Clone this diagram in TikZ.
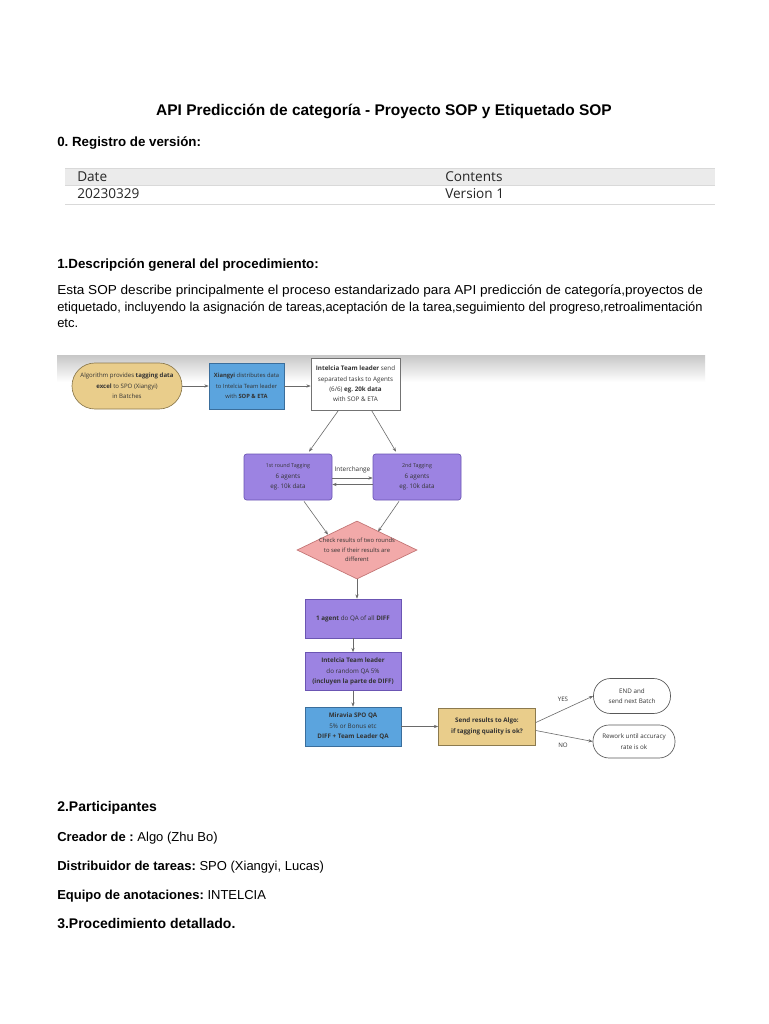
\documentclass[tikz,border=0pt]{standalone}
\usepackage{fontspec}
\usepackage{graphicx}
\setmainfont{Liberation Sans}
\newfontfamily\flowfont{Open Sans}
\newfontfamily\tabfont{Open Sans}
\usetikzlibrary{shapes.geometric,shapes.misc,arrows.meta,calc}
\definecolor{tanc}{HTML}{E9CD8B}
\definecolor{tanb}{HTML}{8C7A4E}
\definecolor{bluec}{HTML}{5BA4DE}
\definecolor{blueb}{HTML}{3A6E9C}
\definecolor{purc}{HTML}{9C83E2}
\definecolor{purb}{HTML}{6B55B3}
\definecolor{pinkc}{HTML}{F2A9A9}
\definecolor{pinkb}{HTML}{C27474}
\definecolor{ftxt}{HTML}{333333}
\definecolor{arrc}{HTML}{6A6A6A}
\frenchspacing
\begin{document}
\begin{tikzpicture}[x=0.75pt,y=-0.75pt,
  doc/.style={anchor=base west,inner sep=0pt,font=\fontsize{9.75}{11}\selectfont},
  head/.style={anchor=base west,inner sep=0pt,font=\fontsize{10}{12}\selectfont\bfseries},
  tab/.style={anchor=base west,inner sep=0pt,font=\tabfont\fontsize{10.2}{12}\selectfont,text=black!85},
  box/.style 2 args={draw,line width=0.5pt,align=center,inner sep=0pt,text=ftxt,
     font=\flowfont\fontsize{4.7}{7.8}\selectfont,
     minimum width=#1*0.75pt,minimum height=#2*0.75pt},
  tanbox/.style={fill=tanc,draw=tanb},
  bluebox/.style={fill=bluec,draw=blueb},
  purbox/.style={fill=purc,draw=purb},
  whitebox/.style={fill=white,draw=black!55},
  arr/.style={draw=arrc,line width=0.45pt,-{Stealth[length=3.2pt,width=2.4pt]}},
  lbl/.style={inner sep=0pt,text=ftxt,font=\flowfont\fontsize{4.6}{6}\selectfont}]
\useasboundingbox (0,0) rectangle (768,1024);
\fill[white] (0,0) rectangle (768,1024);

% ---- header text
\node[anchor=base,inner sep=0pt,font=\fontsize{11.6}{14}\selectfont\bfseries] (title) at (384,115)
  {API Predicción de categoría - Proyecto SOP y Etiquetado SOP};
\node[head] (h0) at (57,146) {0. Registro de versión:};

% ---- version table
\fill[black!8] (65,168) rectangle (715,185);
\draw[black!15,line width=0.4pt] (65,168) -- (715,168);
\draw[black!15,line width=0.4pt] (65,185) -- (715,185);
\draw[black!15,line width=0.4pt] (65,204) -- (715,204);
\node[tab] (tdate) at (77,181) {Date};
\node[tab] (tcont) at (445,181) {Contents};
\node[tab] (tval) at (77,198) {20230329};
\node[tab] (tver) at (445,198) {Version 1};

\node[head] (h1) at (57,268) {1.Descripción general del procedimiento:};
\node[doc] (p1) at (57,294) {\scalebox{1.045}[1]{Esta SOP describe principalmente el proceso estandarizado para API predicción de categoría,proyectos de}};
\node[doc] (p2) at (57,311) {\scalebox{0.99}[1]{etiquetado, incluyendo la asignación de tareas,aceptación de la tarea,seguimiento del progreso,retroalimentación}};
\node[doc] (p3) at (57,327) {etc.};

% ---- flowchart background band
\shade[top color=black!22,bottom color=white] (57,355) rectangle (705,382);

% ---- flowchart nodes
\node[box={110}{46},tanbox,rounded corners=23*0.75pt,font=\flowfont\fontsize{4.55}{7.8}\selectfont] (n1) at (127,386)
  {Algorithm provides \textbf{tagging data}\\\textbf{excel} to SPO (Xiangyi)\\in Batches};
\node[box={75}{46},bluebox,font=\flowfont\fontsize{4.35}{7.8}\selectfont] (n2) at (246.5,386)
  {\textbf{Xiangyi} distributes data\\to Intelcia Team leader\\with \textbf{SOP \& ETA}};
\node[box={89}{52},whitebox] (n3) at (355.5,384)
  {\textbf{Intelcia Team leader} send\\separated tasks to Agents\\(6/6) \textbf{eg. 20k data}\\with SOP \& ETA};
\node[box={88}{46},purbox,rounded corners=2pt] (n4) at (288,477)
  {{\fontsize{4}{6}\selectfont 1st round Tagging}\\6 agents\\eg. 10k data};
\node[box={88}{46},purbox,rounded corners=2pt] (n5) at (417,477)
  {{\fontsize{4}{6}\selectfont 2nd Tagging}\\6 agents\\eg. 10k data};
\node[diamond,draw=pinkb,fill=pinkc,line width=0.5pt,inner sep=0pt,
  minimum width=120*0.75pt,minimum height=58*0.75pt] (dia) at (357,550) {};
\node[lbl,align=center,font=\flowfont\fontsize{4.4}{7.2}\selectfont] (diat) at (dia.center)
  {Check results of two rounds\\to see if their results are\\different};
\node[box={96}{39},purbox] (n6) at (353,618.5)
  {\textbf{1 agent} do QA of all \textbf{DIFF}};
\node[box={96}{38},purbox] (n7) at (353,671.5)
  {\textbf{Intelcia Team leader}\\do random QA 5\%\\\textbf{(incluyen la parte de DIFF)}};
\node[box={96}{39},bluebox] (n8) at (353,726.5)
  {\textbf{Miravia SPO QA}\\5\% or Bonus etc\\\textbf{DIFF + Team Leader QA}};
\node[box={97}{37},tanbox] (n9) at (487,726.5)
  {\textbf{Send results to Algo:}\\\textbf{if tagging quality is ok?}};
\node[box={77}{35},whitebox,draw=black!65,rounded corners=17*0.75pt] (n10) at (632,696)
  {END and\\send next Batch};
\node[box={82}{33},whitebox,draw=black!65,rounded corners=16*0.75pt] (n11) at (634,741.5)
  {Rework until accuracy\\rate is ok};

% ---- connectors
\draw[arr] (n1.east) -- (n2.west);
\draw[arr] (n2.east) -- (n2.east -| n3.west);
\draw[arr] ($(n3.south)+(-17,0)$) -- ($(n4.north)+(21,-2)$);
\draw[arr] ($(n3.south)+(16,0)$) -- ($(n5.north)+(-21,-2)$);
\draw[arr] ($(n4.east)+(0,1)$) -- ($(n5.west)+(0,1)$);
\draw[arr] ($(n5.west)+(0,7.5)$) -- ($(n4.east)+(0,7.5)$);
\node[lbl,font=\flowfont\fontsize{4.8}{6}\selectfont] (ilbl) at (352.5,470) {Interchange};
\draw[arr] ($(n4.south)+(16,1)$) -- ($(dia.north)+(-29,14)$);
\draw[arr] ($(n5.south)+(-18,1)$) -- ($(dia.north)+(21,11)$);
\draw[arr] (dia.south) -- (dia.south |- n6.north);
\draw[arr] (n6.south) -- (n7.north);
\draw[arr] (n7.south) -- (n8.north);
\draw[arr] (n8.east) -- (n9.west);
\draw[arr] ($(n9.east)+(0,-4)$) -- (n10.west);
\draw[arr] ($(n9.east)+(0,4)$) -- (n11.west);
\node[lbl] (yes) at (563,699) {YES};
\node[lbl] (no) at (563,745) {NO};

% ---- participants
\node[head,font=\fontsize{10.5}{12}\selectfont\bfseries] (h2) at (57,811) {2.Participantes};
\node[doc] (c1) at (57,841) {\textbf{Creador de :} Algo (Zhu Bo)};
\node[doc] (c2) at (57,870) {\textbf{Distribuidor de tareas:} SPO (Xiangyi, Lucas)};
\node[doc] (c3) at (57,899) {\textbf{Equipo de anotaciones:} INTELCIA};
\node[head,font=\fontsize{10.5}{12}\selectfont\bfseries] (h3) at (57,928) {3.Procedimiento detallado.};
\end{tikzpicture}
\end{document}
